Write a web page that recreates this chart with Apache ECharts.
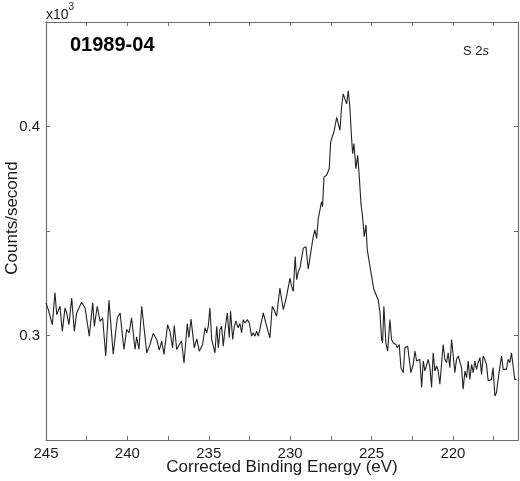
<!DOCTYPE html>
<html>
<head>
<meta charset="utf-8">
<script src="https://cdn.jsdelivr.net/npm/echarts@6/dist/echarts.min.js"></script>
<style>
  html, body { margin: 0; padding: 0; background: #fff; }
  #chart { width: 520px; height: 481px; }
</style>
</head>
<body>
<div id="chart"></div>
<script>
// binding energy (eV)
let energy = [
  245.00, 244.86, 244.75, 244.61, 244.45, 244.34, 244.24, 244.14, 244.00, 243.83,
  243.73, 243.59, 243.42, 243.26, 243.12, 242.81, 242.60, 242.34, 242.13, 242.03,
  241.85, 241.68, 241.52, 241.33, 241.13, 240.87, 240.62, 240.45, 240.21, 240.04,
  239.90, 239.74, 239.53, 239.43, 239.29, 239.12, 238.81, 238.61, 238.41, 238.20,
  238.04, 237.89, 237.75, 237.53, 237.38, 237.22, 237.12, 236.97, 236.81, 236.67,
  236.52, 236.32, 236.22, 236.09, 235.89, 235.74, 235.58,
  235.38, 235.23, 235.13, 235.03, 234.93, 234.82, 234.72, 234.62, 234.51, 234.41,
  234.31, 234.21, 234.11, 234.00, 233.86, 233.74, 233.66, 233.53, 233.43, 233.33,
  233.19, 233.08, 232.98, 232.88, 232.78, 232.63, 232.51, 232.37, 232.27, 232.16,
  232.06, 231.96, 231.86, 231.65, 231.44, 231.24, 231.10, 231.00, 230.83, 230.63,
  230.52, 230.42, 230.22, 230.12, 230.01, 229.91, 229.81, 229.69, 229.60, 229.50,
  229.40, 229.19, 229.03, 228.89, 228.74, 228.58, 228.48, 228.37, 228.27, 228.17,
  228.07, 228.01, 227.92, 227.76, 227.60, 227.51, 227.39, 227.29, 227.14, 227.04,
  226.94, 226.84, 226.74, 226.63, 226.53, 226.43, 226.33, 226.23, 226.16, 226.08,
  225.96, 225.85, 225.75, 225.65, 225.55, 225.45, 225.34, 225.26, 225.14, 225.06,
  224.85, 224.59, 224.48, 224.38, 224.32, 224.24, 224.12, 224.01, 223.87, 223.77,
  223.67, 223.50, 223.42, 223.30, 223.19, 223.05, 222.95, 222.78, 222.68, 222.58,
  222.44, 222.33, 222.23, 222.13, 222.03, 221.92, 221.82, 221.72, 221.62, 221.52,
  221.41, 221.31, 221.21, 221.11, 221.00, 220.90, 220.80, 220.70, 220.60, 220.49,
  220.39, 220.29, 220.19, 220.08, 219.98, 219.88, 219.78, 219.67, 219.57, 219.47,
  219.37, 219.26, 219.16, 219.06, 218.96, 218.85, 218.75, 218.65, 218.55, 218.45,
  218.34, 218.24, 218.14, 218.04, 217.94, 217.83, 217.73, 217.63, 217.53, 217.42,
  217.32, 217.22, 217.12, 217.01, 216.91, 216.81, 216.71, 216.61, 216.50, 216.40,
  216.30, 216.20, 216.09
]
// counts/second (x10^3)
let counts = [
  0.3156, 0.3124, 0.3116, 0.3052, 0.3206, 0.3100, 0.3108, 0.3140, 0.3020, 0.3132,
  0.3108, 0.3052, 0.3179, 0.3020, 0.3108, 0.3159, 0.3132, 0.2997, 0.3156, 0.3044,
  0.3140, 0.3068, 0.3084, 0.2902, 0.3168, 0.2910, 0.3084, 0.3108, 0.2933, 0.3029,
  0.3013, 0.3084, 0.2933, 0.2994, 0.2933, 0.3140, 0.2917, 0.2957, 0.3010, 0.2981,
  0.2930, 0.2973, 0.2910, 0.3052, 0.3020, 0.2941, 0.3048, 0.2933, 0.2957, 0.2973,
  0.2867, 0.3057, 0.2989, 0.3079, 0.2941, 0.2984, 0.2925,
  0.2957, 0.3037, 0.3013, 0.3044, 0.3132, 0.2981, 0.2949, 0.2917, 0.3044, 0.2941,
  0.3029, 0.3044, 0.2949, 0.3029, 0.3108, 0.2989, 0.3116, 0.2981, 0.3044, 0.3068,
  0.3037, 0.3057, 0.3013, 0.3076, 0.3060, 0.3076, 0.3060, 0.2997, 0.3013, 0.2997,
  0.3021, 0.2997, 0.3029, 0.3108, 0.3044, 0.2989, 0.3140, 0.3124, 0.3092, 0.3227,
  0.3171, 0.3124, 0.3187, 0.3179, 0.3275, 0.3235, 0.3211, 0.3378, 0.3267, 0.3306,
  0.3322, 0.3418, 0.3425, 0.3317, 0.3394, 0.3473, 0.3505, 0.3465, 0.3560, 0.3600,
  0.3640, 0.3616, 0.3759, 0.3767, 0.3798, 0.3925, 0.3925, 0.3981, 0.4044, 0.4013,
  0.3981, 0.4092, 0.4156, 0.4148, 0.4108, 0.4171, 0.4092, 0.3949, 0.3870, 0.3918,
  0.3798, 0.3862, 0.3759, 0.3632, 0.3568, 0.3473, 0.3529, 0.3410, 0.3402, 0.3314,
  0.3219, 0.3171, 0.3108, 0.2981, 0.2965, 0.3140, 0.2965, 0.2925, 0.3076, 0.2981,
  0.2965, 0.2957, 0.2941, 0.2957, 0.2846, 0.2822, 0.2941, 0.2949, 0.2886, 0.2822,
  0.2862, 0.2925, 0.2878, 0.2878, 0.2886, 0.2751, 0.2878, 0.2830, 0.2822, 0.2886,
  0.2846, 0.2751, 0.2917, 0.2830, 0.2854, 0.2830, 0.2767, 0.2767, 0.2957, 0.2886,
  0.2870, 0.2917, 0.2846, 0.2981, 0.2902, 0.2822, 0.2886, 0.2902, 0.2894, 0.2846,
  0.2743, 0.2830, 0.2798, 0.2878, 0.2790, 0.2862, 0.2822, 0.2878, 0.2838, 0.2870,
  0.2894, 0.2814, 0.2902, 0.2886, 0.2862, 0.2783, 0.2790, 0.2790, 0.2846, 0.2711,
  0.2727, 0.2790, 0.2846, 0.2902, 0.2838, 0.2830, 0.2838, 0.2886, 0.2870, 0.2917,
  0.2854, 0.2790, 0.2790
]
let xLabels = [220, 225, 230, 235, 240, 245]
let xTicks = [217.5, 220, 222.5, 225, 227.5, 230, 232.5, 235, 237.5, 240, 242.5, 245]
let yLabels = [0.3, 0.4]
let yTicks = [0.3, 0.35, 0.4]

let axisColor = '#6e6e6e'
let textColor = '#1a1a1a'
let font = 'Liberation Sans, Arial, sans-serif'

let myChart = echarts.init(document.getElementById('chart'))

function xAxisOf(pos, showLabel) {
    return {
        type: 'value',
        position: pos,
        inverse: true,
        min: 216,
        max: 245,
        axisLine: { show: true, onZero: false, lineStyle: { color: axisColor, width: 1.2 } },
        axisTick: { show: true, inside: true, length: 4, customValues: xTicks, lineStyle: { color: axisColor } },
        axisLabel: { show: showLabel, customValues: xLabels, color: textColor, fontSize: 15, fontFamily: font, margin: 6 },
        splitLine: { show: false }
    }
}

function yAxisOf(pos, showLabel) {
    return {
        type: 'value',
        position: pos,
        min: 0.25,
        max: 0.45,
        axisLine: { show: true, onZero: false, lineStyle: { color: axisColor, width: 1.2 } },
        axisTick: { show: true, inside: true, length: 4, customValues: yTicks, lineStyle: { color: axisColor } },
        axisLabel: { show: showLabel, customValues: yLabels, color: textColor, fontSize: 15, fontFamily: font, margin: 6 },
        splitLine: { show: false }
    }
}

myChart.setOption({
    animation: false,
    backgroundColor: '#fff',
    grid: { left: 46, right: 2, top: 22, bottom: 41, containLabel: false, outerBoundsMode: 'none' },
    xAxis: [xAxisOf('bottom', true), xAxisOf('top', false)],
    yAxis: [yAxisOf('left', true), yAxisOf('right', false)],
    graphic: [
        {
            type: 'text', left: 46, top: 2,
            style: {
                text: '{a|x10}{b|3}',
                rich: {
                    a: { fontSize: 14, fontFamily: font, fill: textColor, padding: [6, 0, 0, 0] },
                    b: { fontSize: 10, fontFamily: font, fill: textColor, verticalAlign: 'top' }
                }
            }
        },
        {
            type: 'text', left: 70, top: 35,
            style: { text: '01989-04', fontSize: 20, fontWeight: 'bold', fontFamily: font, fill: '#000' }
        },
        {
            type: 'text', left: 463, top: 45,
            style: {
                text: '{a|S 2}{b|s}',
                rich: {
                    a: { fontSize: 13, fontFamily: font, fill: textColor },
                    b: { fontSize: 13, fontFamily: font, fontStyle: 'italic', fill: textColor }
                }
            }
        },
        {
            // x axis title
            type: 'text', x: 282, y: 467,
            style: {
                text: 'Corrected Binding Energy (eV)', fontSize: 17, fontFamily: font, fill: textColor,
                align: 'center', verticalAlign: 'middle'
            }
        },
        {
            // y axis title
            type: 'text', x: 12, y: 218, rotation: Math.PI / 2,
            style: {
                text: 'Counts/second', fontSize: 17, fontFamily: font, fill: textColor,
                align: 'center', verticalAlign: 'middle'
            }
        }
    ],
    series: [{
        type: 'line',
        xAxisIndex: 0,
        yAxisIndex: 0,
        showSymbol: false,
        symbol: 'none',
        lineStyle: { color: '#222', width: 1.1 },
        data: energy.map((e, i) => [e, counts[i]])
    }]
})
</script>
</body>
</html>
